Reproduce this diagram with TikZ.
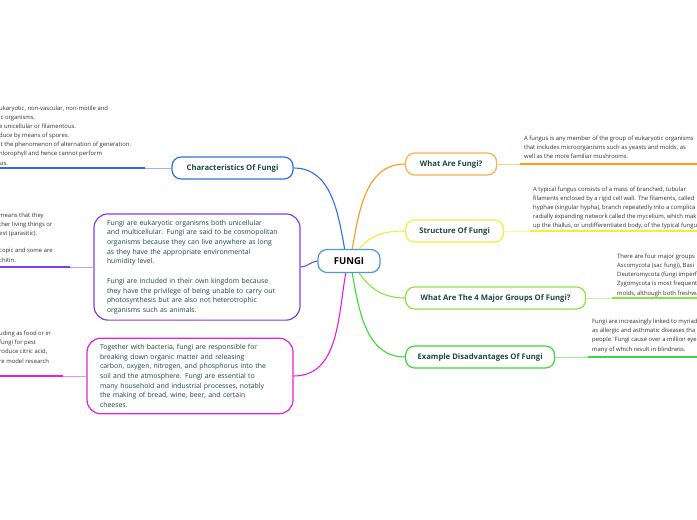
\documentclass[tikz,border=0pt]{standalone}
\usepackage{fontspec}
\setmainfont{Open Sans}
\definecolor{tcol}{HTML}{1E4A44}
\definecolor{dcol}{HTML}{333333}
\definecolor{cblue}{HTML}{2F6FE6}
\definecolor{cfun}{HTML}{4A9BD6}
\definecolor{corange}{HTML}{FF9A1A}
\definecolor{cyellow}{HTML}{F0F03A}
\definecolor{clime}{HTML}{8CE63A}
\definecolor{cgreen}{HTML}{3CD83C}
\definecolor{cmag}{HTML}{E022E0}
\definecolor{cpurp}{HTML}{7F3FE8}
\begin{document}
\begin{tikzpicture}[x=1pt,y=-1pt,
  topic/.style={draw=#1, rounded corners=9pt, line width=1.2pt, fill=white,
    font=\bfseries\fontsize{7.7}{9}\selectfont, text=tcol, minimum height=22pt, inner xsep=10pt, anchor=west},
  central/.style={draw=cfun, rounded corners=9pt, line width=1.2pt, fill=white,
    font=\bfseries\fontsize{9.5}{11}\selectfont, text=black, minimum height=23pt, minimum width=62pt},
  detail/.style={font=\fontsize{5.9}{9.1}\selectfont, text=dcol, inner sep=0pt, align=left, anchor=base west},
  bigbox/.style={draw=#1, rounded corners=14pt, line width=1.2pt, fill=white,
    font=\fontsize{6.9}{9.7}\selectfont, text=tcol, align=left, text width=180pt, inner xsep=13pt, inner ysep=6pt},
  conn/.style={draw=#1, line width=1.1pt},
  ulight/.style={draw=#1!50, line width=1pt},
  udark/.style={draw=#1, line width=1.8pt},
]
\clip (0,0) rectangle (697,520);
\fill[white] (0,0) rectangle (697,520);

% central
\node[central] (fungi) at (349,261) {FUNGI};

% topics right
\node[topic=corange!80, minimum width=91pt] (what) at (405,164) {What Are Fungi?};
\node[topic=cyellow, minimum width=98pt] (struct) at (405,231) {Structure Of Fungi};
\node[topic=clime, minimum width=180pt] (groups) at (405,298) {What Are The 4 Major Groups Of Fungi?};
\node[topic=cgreen, minimum width=149pt] (disad) at (405,357) {Example Disadvantages Of Fungi};

% topic left
\node[topic=cblue, minimum width=121pt, anchor=center] (charac) at (232.5,168) {Characteristics Of Fungi};

% big boxes left
\node[bigbox=cpurp] (purpbox) at (197,267) {Fungi are eukaryotic organisms both unicellular\\and multicellular. Fungi are said to be cosmopolitan\\organisms because they can live anywhere as long\\as they have the appropriate environmental\\humidity level.\\[9.7pt]Fungi are included in their own kingdom because\\they have the privilege of being unable to carry out\\photosynthesis but are also not heterotrophic\\organisms such as animals.};
\node[bigbox=cmag] (magbox) at (190,376) {Together with bacteria, fungi are responsible for\\breaking down organic matter and releasing\\carbon, oxygen, nitrogen, and phosphorus into the\\soil and the atmosphere. Fungi are essential to\\many household and industrial processes, notably\\the making of bread, wine, beer, and certain\\cheeses.};

% connectors
\draw[conn=cblue] (fungi.110) to[out=100, in=0] (charac.east);
\draw[conn=corange] (fungi.75) to[out=80, in=180] (what.west);
\draw[conn=cyellow] (fungi.50) to[out=50, in=180] (struct.west);
\draw[conn=clime] (fungi.-50) to[out=-55, in=180] (groups.west);
\draw[conn=cgreen] (fungi.-75) to[out=-80, in=180] (disad.west);
\draw[conn=cmag] (fungi.-105) to[out=-100, in=0] (magbox.east);
\draw[conn=cpurp] (fungi.west) to[out=185, in=0] (purpbox.east);

% underlines
\coordinate (ch1) at (145,168); \coordinate (ch0) at (0,168);
\draw[ulight=cblue] (charac.west) -- (ch1);
\draw[udark=cblue] (ch1) -- (ch0);
\coordinate (pu1) at (70,267); \coordinate (pu0) at (0,267);
\draw[ulight=cpurp] (purpbox.west) -- (pu1);
\draw[udark=cpurp] (pu1) -- (pu0);
\coordinate (ma1) at (63,376); \coordinate (ma0) at (0,376);
\draw[ulight=cmag] (magbox.west) -- (ma1);
\draw[udark=cmag] (ma1) -- (ma0);
\coordinate (wh1) at (520,164); \coordinate (wh0) at (697,164);
\draw[ulight=corange] (what.east) -- (wh1);
\draw[udark=corange] (wh1) -- (wh0);
\coordinate (st1) at (530,231); \coordinate (st0) at (697,231);
\draw[ulight=cyellow] (struct.east) -- (st1);
\draw[udark=cyellow] (st1) -- (st0);
\coordinate (gr1) at (612,298); \coordinate (gr0) at (697,298);
\draw[ulight=clime] (groups.east) -- (gr1);
\draw[udark=clime] (gr1) -- (gr0);
\coordinate (di1) at (588,357); \coordinate (di0) at (697,357);
\draw[ulight=cgreen] (disad.east) -- (di1);
\draw[udark=cgreen] (di1) -- (di0);

% detail texts (anchored at baseline of last line)
\node[detail] (tchar) at (-1,165) {ukaryotic, non-vascular, non-motile and\\ic organisms.\\e unicellular or filamentous.\\duce by means of spores.\\it the phenomenon of alternation of generation.\\hlorophyll and hence cannot perform\\sis.};
\node[detail] (tpurp) at (-1,262) {means that they\\ther living things or\\est (parasitic).\\[8.5pt]copic and some are\\ chitin.};
\node[detail] (tmag) at (-1,363) {uding as food or in\\ fungi for pest\\roduce citric acid,\\re model research};
\node[detail] (twhat) at (524,158.5) {A fungus is any member of the group of eukaryotic organisms\\that includes microorganisms such as yeasts and molds, as\\well as the more familiar mushrooms.};
\node[detail] (tstruct) at (533,227.5) {A typical fungus consists of a mass of branched, tubular\\filaments enclosed by a rigid cell wall. The filaments, called\\hyphae (singular hypha), branch repeatedly into a complica\\radially expanding network called the mycelium, which mak\\up the thallus, or undifferentiated body, of the typical fungu};
\node[detail] (tgroups) at (617,295) {There are four major groups\\Ascomycota (sac fungi), Basi\\Deuteromycota (fungi imperf\\Zygomycota is most frequent\\molds, although both freshwa};
\node[detail] (tdisad) at (592,351) {Fungi are increasingly linked to myriad\\as allergic and asthmatic diseases tha\\people. Fungi cause over a million eye\\many of which result in blindness.};
\end{tikzpicture}
\end{document}
